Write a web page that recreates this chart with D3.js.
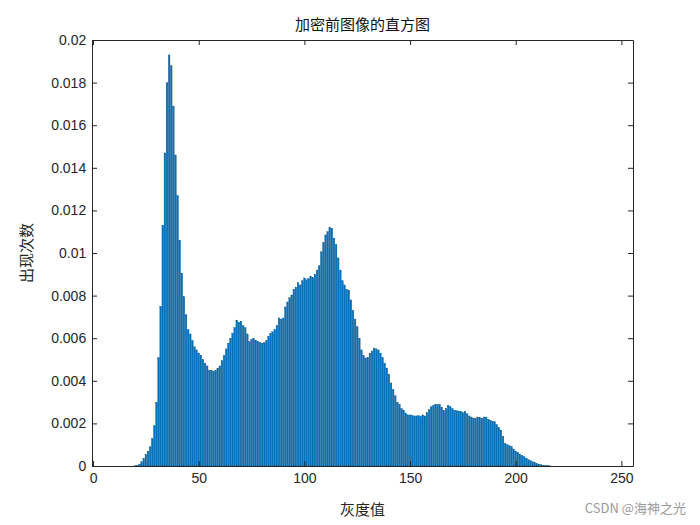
<!DOCTYPE html><html><head><meta charset="utf-8"><script src="https://cdn.jsdelivr.net/npm/d3@7"></script>
<style>body{margin:0;background:#fff}</style></head><body><svg id="c" width="700" height="525"></svg><script>
const title="加密前图像的直方图", xLabel="灰度值", yLabel="出现次数";
const xTicks=[0,50,100,150,200,250];
const yTicks=[0,0.002,0.004,0.006,0.008,0.01,0.012,0.014,0.016,0.018,0.02];
const yTickLabels=["0","0.002","0.004","0.006","0.008","0.01","0.012","0.014","0.016","0.018","0.02"];
// values in units of 0.001 for gray levels 20..216 (others zero), 10 per row
const startLevel=20;
const vals=[
0.01,0.03,0.09,0.2,0.35,0.55,0.7,0.9,1.3,1.9,
3.0,5.1,7.5,11.3,14.7,18.0,19.3,18.8,16.9,14.6,
12.7,10.6,9.05,7.95,7.1,6.4,6.2,5.9,5.6,5.45,
5.3,5.2,5.0,4.83,4.7,4.5,4.5,4.45,4.5,4.6,
4.7,4.95,5.2,5.5,5.77,6.0,6.24,6.5,6.85,6.75,
6.8,6.6,6.5,6.2,5.85,5.95,6.0,5.9,5.85,5.8,
5.77,5.8,5.9,6.1,6.24,6.3,6.4,6.6,6.95,6.9,
6.95,7.47,7.7,7.9,8.03,8.3,8.4,8.6,8.5,8.7,
8.83,8.75,8.8,8.9,8.85,9.0,9.2,9.4,10.06,10.5,
10.85,11.0,11.2,11.15,10.7,10.4,9.77,9.2,8.7,8.5,
8.3,8.26,7.8,7.3,6.9,6.54,6.0,5.45,5.2,5.07,
5.1,5.3,5.4,5.54,5.5,5.45,5.3,5.1,4.83,4.6,
4.3,3.9,3.6,3.3,3.0,2.9,2.7,2.6,2.48,2.4,
2.4,2.38,2.35,2.35,2.37,2.33,2.4,2.35,2.5,2.65,
2.78,2.85,2.9,2.88,2.9,2.75,2.6,2.7,2.85,2.8,
2.7,2.62,2.6,2.58,2.56,2.5,2.56,2.45,2.35,2.3,
2.25,2.25,2.3,2.28,2.25,2.3,2.3,2.2,2.15,2.1,
2.08,1.95,1.8,1.69,1.4,1.07,1.0,0.95,0.92,0.8,
0.7,0.63,0.55,0.5,0.44,0.37,0.3,0.25,0.2,0.15,
0.11,0.09,0.06,0.04,0.03,0.02,0.01];
const data=d3.range(256).map(i=>{const k=i-startLevel;return (k>=0&&k<vals.length?vals[k]:0)/1000;});
const svg=d3.select("#c");
const L=92,R=633,T=40,B=466;
const x=d3.scaleLinear().domain([-0.5,255.5]).range([L,R]);
const y=d3.scaleLinear().domain([0,0.02]).range([B,T]);
const bw=x(1)-x(0);
svg.append("g").selectAll("rect").data(data).join("rect")
 .attr("x",(d,i)=>x(i)-bw*0.4).attr("width",bw*0.8).attr("y",d=>y(d)).attr("height",d=>B-y(d))
 .attr("fill","#0072BD").attr("stroke","#0a4f86").attr("stroke-width",0.3);
const f="Arial, 'Liberation Sans', sans-serif";
const gx=svg.append("g").attr("transform",`translate(0,${B})`).call(d3.axisBottom(x).tickValues(xTicks).tickSize(-5).tickSizeOuter(0));
const gx2=svg.append("g").attr("transform",`translate(0,${T})`).call(d3.axisTop(x).tickValues(xTicks).tickSize(-5).tickFormat("").tickSizeOuter(0));
const gy=svg.append("g").attr("transform",`translate(${L},0)`).call(d3.axisLeft(y).tickValues(yTicks).tickFormat((d,i)=>yTickLabels[i]).tickSize(-5).tickSizeOuter(0));
const gy2=svg.append("g").attr("transform",`translate(${R},0)`).call(d3.axisRight(y).tickValues(yTicks).tickFormat("").tickSize(-5).tickSizeOuter(0));
[gx,gx2,gy,gy2].forEach(g=>{g.selectAll("path,line").attr("stroke","#262626");g.selectAll("text").attr("font-family",f).attr("font-size",14).attr("fill","#262626");});
gx.selectAll("text").attr("dy","1.0em");gy.selectAll("text").attr("dx","-0.2em");
svg.append("text").attr("x",(L+R)/2).attr("y",30).attr("text-anchor","middle").attr("font-family","'Noto Sans CJK SC'").attr("font-size",15).attr("fill","#111").text(title);
svg.append("text").attr("x",(L+R)/2).attr("y",515).attr("text-anchor","middle").attr("font-family","'Noto Sans CJK SC'").attr("font-size",15).attr("fill","#262626").text(xLabel);
svg.append("text").attr("transform",`translate(32,${(T+B)/2}) rotate(-90)`).attr("text-anchor","middle").attr("font-family","'Noto Sans CJK SC'").attr("font-size",15).attr("fill","#262626").text(yLabel);
svg.append("text").attr("x",686).attr("y",513).attr("text-anchor","end").attr("font-family","'Noto Sans CJK SC'").attr("font-size",13).attr("fill","#999").text("CSDN @海神之光");
</script></body></html>
